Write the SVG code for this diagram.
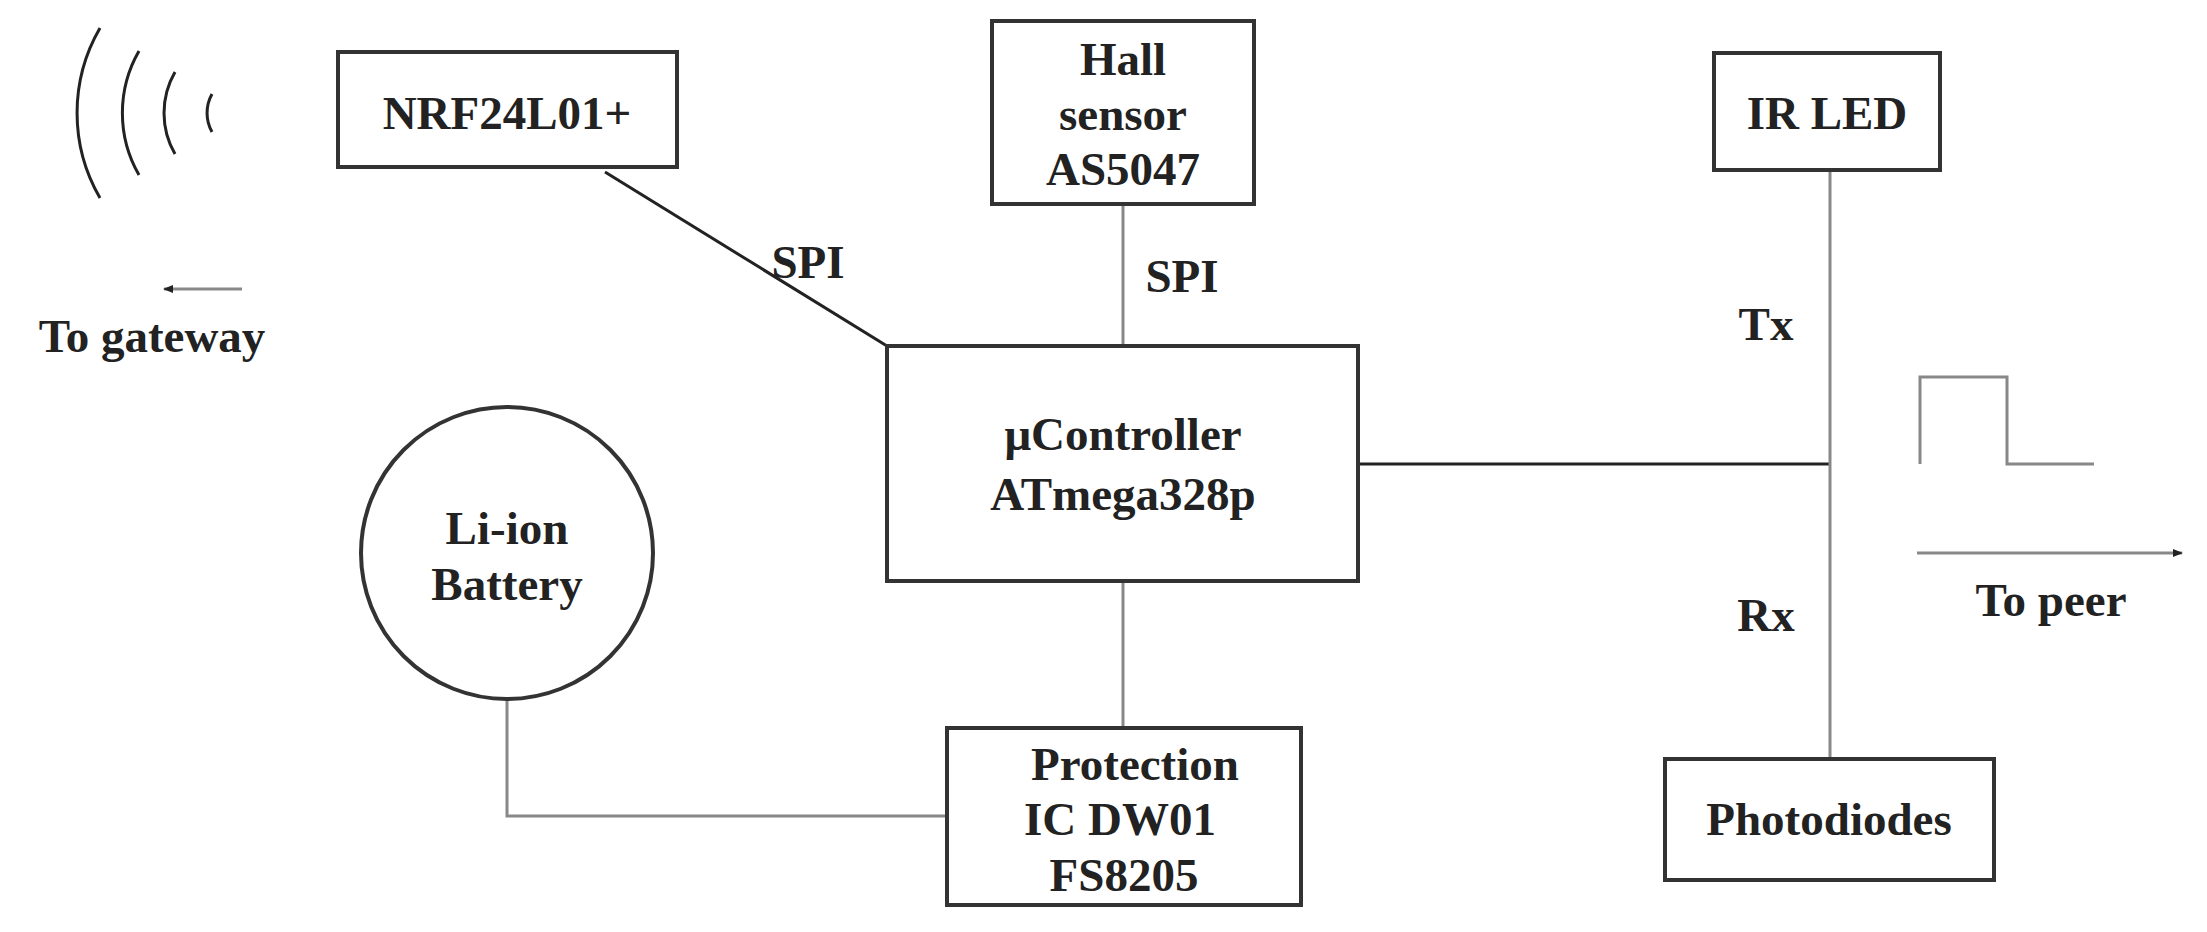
<svg xmlns="http://www.w3.org/2000/svg" width="2207" height="932" viewBox="0 0 2207 932">
<style>
text{font-family:"Liberation Serif",serif;font-size:47px;font-weight:bold;fill:#222;text-anchor:middle;dominant-baseline:central}
.box{fill:#fff;stroke:#333;stroke-width:4}
.g{stroke:#888;stroke-width:3;fill:none}
.k{stroke:#222;stroke-width:3;fill:none}
</style>
<defs><marker id="a" markerWidth="10" markerHeight="8" refX="9" refY="4" orient="auto" markerUnits="userSpaceOnUse"><path d="M0,0L10,4L0,8z" fill="#222"/></marker></defs>
<g id="connectors">
<line class="k" x1="605" y1="172" x2="887" y2="346"/>
<line class="g" x1="1123" y1="204" x2="1123" y2="346"/>
<line class="g" x1="1123" y1="581" x2="1123" y2="728"/>
<polyline class="g" points="507,699 507,816 947,816"/>
<line class="k" x1="1358" y1="464" x2="1830" y2="464"/>
<line class="g" x1="1830" y1="170" x2="1830" y2="759"/>
<text x="808" y="262">SPI</text>
<text x="1182" y="276">SPI</text>
<text x="1766" y="324">Tx</text>
<text x="1766" y="615">Rx</text>
</g>
<g id="radio">
<path class="k" stroke-width="2.5" d="M100,28 A169,169 0 0 0 100,198"/>
<path class="k" stroke-width="2.5" d="M139,51 A124,124 0 0 0 139,175"/>
<path class="k" stroke-width="2.5" d="M175,72 A82,82 0 0 0 175,154"/>
<path class="k" stroke-width="2.5" d="M212,94 A39,39 0 0 0 212,132"/>
<line class="g" x1="242" y1="289" x2="164" y2="289" marker-end="url(#a)"/>
<text x="152" y="336">To gateway</text>
</g>
<g id="pulse">
<polyline class="g" points="1920,464 1920,377 2007,377 2007,464 2094,464"/>
<line class="g" x1="1917" y1="553" x2="2182" y2="553" marker-end="url(#a)"/>
<text x="2051" y="600">To peer</text>
</g>
<g id="nrf"><rect class="box" x="338" y="52" width="339" height="115"/><text x="507" y="113">NRF24L01+</text></g>
<g id="hall"><rect class="box" x="992" y="21" width="262" height="183"/><text x="1123" y="59">Hall</text><text x="1123" y="114">sensor</text><text x="1123" y="169">AS5047</text></g>
<g id="irled"><rect class="box" x="1714" y="53" width="226" height="117"/><text x="1827" y="113">IR LED</text></g>
<g id="mcu"><rect class="box" x="887" y="346" width="471" height="235"/><text x="1123" y="434">μController</text><text x="1123" y="494">ATmega328p</text></g>
<g id="battery"><circle class="box" cx="507" cy="553" r="146"/><text x="507" y="528">Li-ion</text><text x="507" y="584">Battery</text></g>
<g id="protection"><rect class="box" x="947" y="728" width="354" height="177"/><text x="1135" y="764">Protection</text><text x="1120" y="819">IC DW01</text><text x="1124" y="875">FS8205</text></g>
<g id="photo"><rect class="box" x="1665" y="759" width="329" height="121"/><text x="1829" y="819">Photodiodes</text></g>
</svg>
